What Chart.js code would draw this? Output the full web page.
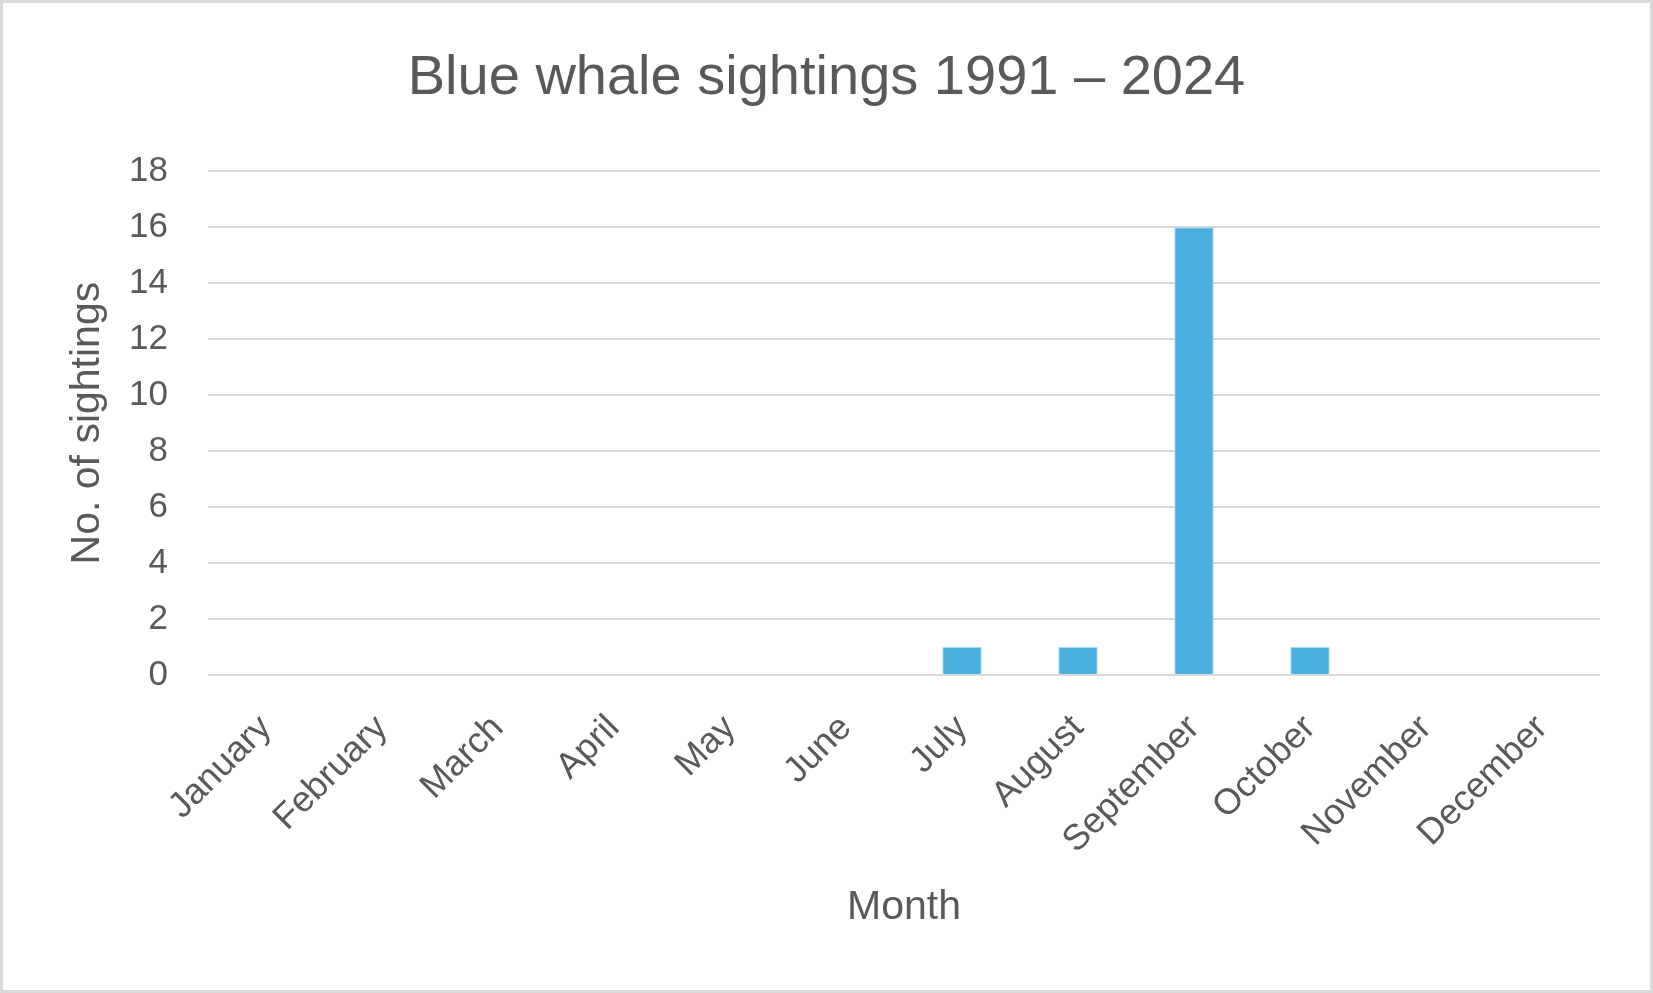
<!DOCTYPE html>
<html>
<head>
<meta charset="utf-8">
<script src="https://cdn.jsdelivr.net/npm/chart.js@4"></script>
<style>
    html, body { margin: 0; padding: 0; background: #fff; }
    #wrap { width: 1653px; height: 993px; }
</style>
</head>
<body>
<div id="wrap"><canvas id="grafico" width="1653" height="993"></canvas></div>
<script>
// Datos
const meses = ["January", "February", "March", "April", "May", "June",
    "July", "August", "September", "October", "November", "December"];
const avistamientos = [0, 0, 0, 0, 0, 0, 1, 1, 16, 1, 0, 0];
const tituloGrafico = "Blue whale sightings 1991 \u2013 2024";
const tituloX = "Month";
const tituloY = "No. of sightings";

const fuente = "'Liberation Sans', Arial, sans-serif";
const gris = "#595959";

// Borde exterior del gráfico
const bordePlugin = {
    id: "borde",
    afterDraw(chart) {
        const ctx = chart.ctx;
        ctx.save();
        ctx.strokeStyle = "#d9d9d9";
        ctx.lineWidth = 3;
        ctx.strokeRect(1.5, 1.5, chart.width - 3, chart.height - 3);
        ctx.restore();
    }
};

const canvas = document.getElementById("grafico");

new Chart(canvas, {
    type: "bar",
    data: {
        labels: meses,
        datasets: [{
            label: tituloY,
            data: avistamientos,
            backgroundColor: "#49b0e0",
            borderColor: "#a9d9f1",
            borderWidth: 1,
            barPercentage: 0.34,
            categoryPercentage: 1
        }]
    },
    options: {
        responsive: false,
        animation: false,
        layout: { padding: 0 },
        plugins: {
            legend: { display: false },
            tooltip: { enabled: false },
            title: {
                display: true,
                text: tituloGrafico,
                color: gris,
                font: { family: fuente, size: 56, weight: "normal" },
                padding: { top: 45, bottom: 59 }
            }
        },
        scales: {
            x: {
                grid: { display: false, drawTicks: false },
                border: { display: false },
                ticks: {
                    color: gris,
                    font: { family: fuente, size: 36 },
                    maxRotation: 45,
                    minRotation: 45,
                    autoSkip: false,
                    padding: 32
                },
                title: {
                    display: true,
                    text: tituloX,
                    color: gris,
                    font: { family: fuente, size: 41 },
                    padding: { top: 0, bottom: 61 }
                },
                afterFit(scale) {
                    scale.height = 318;
                }
            },
            y: {
                min: 0,
                max: 18,
                grid: { color: "#d9d9d9", lineWidth: 2, drawTicks: false },
                border: { display: false },
                ticks: {
                    stepSize: 2,
                    color: gris,
                    font: { family: fuente, size: 35 },
                    padding: 40
                },
                title: {
                    display: true,
                    text: tituloY,
                    color: gris,
                    font: { family: fuente, size: 41 },
                    padding: { top: 63, bottom: 0 }
                },
                afterFit(scale) {
                    scale.width = 208;
                }
            },
            // eje vacío a la derecha, solo para dejar margen y centrar el título
            margen: {
                type: "linear",
                position: "right",
                display: true,
                grid: { display: false, drawTicks: false },
                border: { display: false },
                ticks: { display: false },
                afterFit(scale) {
                    scale.width = 53;
                }
            }
        }
    },
    plugins: [bordePlugin]
});
</script>
</body>
</html>
